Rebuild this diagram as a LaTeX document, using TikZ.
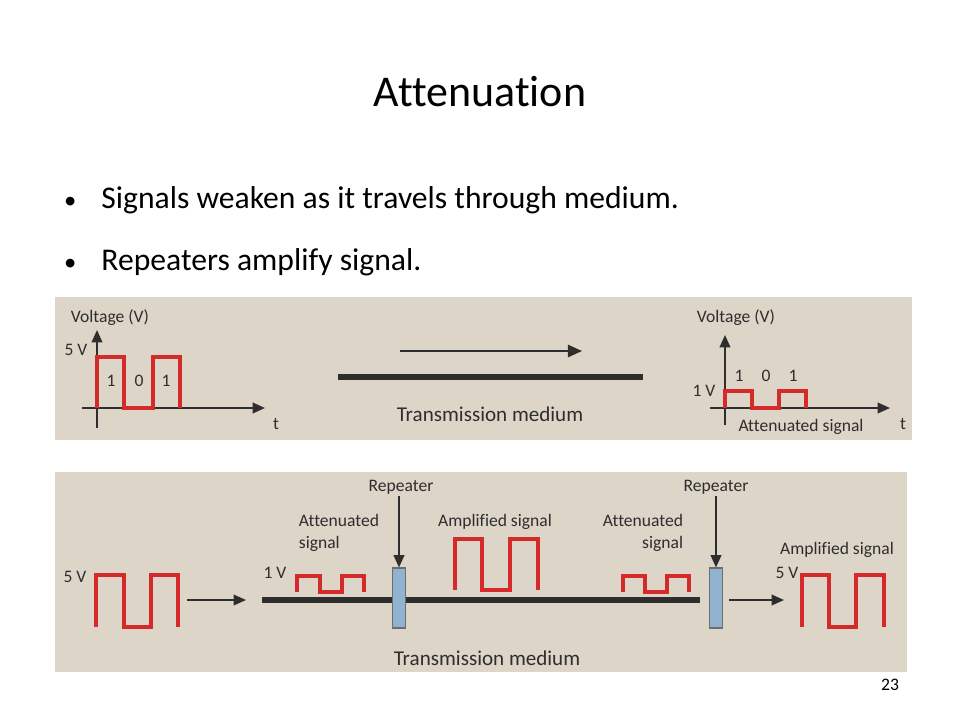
\documentclass[tikz,border=0pt]{standalone}
\usepackage{fontspec}
\setmainfont{Carlito}[Ligatures=CommonOff]
\usetikzlibrary{arrows.meta,positioning}
\definecolor{panel}{HTML}{DDD5C8}
\definecolor{sig}{HTML}{D42A2A}
\definecolor{rep}{HTML}{8FB3D0}
\definecolor{ink}{HTML}{2E2E2E}
\newcommand{\slidebul}{{\fontsize{14}{14}\selectfont\textbullet}\hspace{0.5cm}}

\begin{document}
\begin{tikzpicture}
 [x=0.02cm,y=-0.02cm,
 lbl/.style={text=ink,font=\fontsize{10}{12.5}\selectfont,inner sep=1pt},
 axis/.style={ink,line width=1.1pt,-{Triangle[length=7pt,width=6pt]}},
 wave/.style={sig,line width=1.8pt},
 medium/.style={ink,line width=3.5pt},
 repbox/.style={draw=ink!70,fill=rep,line width=0.6pt,minimum width=0.26cm,minimum height=1.2cm,inner sep=0pt}]
\useasboundingbox[fill=white] (0,0) rectangle (960,720);

\node (title) at (480,92) {\fontsize{25}{28}\selectfont Attenuation};
\node[anchor=west] (b1) at (58,200) {\fontsize{18}{20}\selectfont\slidebul Signals weaken as it travels through medium.};
\node[anchor=west] (b2) at (58,262) {\fontsize{18}{20}\selectfont\slidebul Repeaters amplify signal.};

% upper panel
\fill[panel] (55,297) rectangle (912,440);
\coordinate (o1) at (97,408);
\draw[axis] (97,428) -- (97,330);
\draw[axis] (82,408) -- (265,408);
\draw[wave] (o1) -- (97,357) -- (124,357) -- (124,408) -- (153,408) -- (153,357) -- (180,357) -- (180,408);
\node[lbl] (v1) at (110,318) {Voltage (V)};
\node[lbl] (f1) at (76,350) {5 V};
\node[lbl] (d1) at (111,381) {1};
\node[lbl] (d2) at (139,381) {0};
\node[lbl] (d3) at (166,381) {1};
\node[lbl] (t1) at (276,424) {t};

\coordinate (m1) at (400,351);
\coordinate (m2) at (582,351);
\draw[ink,line width=1pt,-{Triangle[length=8pt,width=7pt]}] (m1) -- (m2);
\draw[medium] (338,377) -- (643,377);
\node[lbl,font=\fontsize{12}{14}\selectfont] (tm1) at (490,414) {Transmission medium};

\coordinate (o2) at (725,408);
\draw[axis] (725,425) -- (725,335);
\draw[axis] (710,408) -- (890,408);
\draw[wave] (o2) -- (725,391) -- (752,391) -- (752,408) -- (779,408) -- (779,391) -- (806,391) -- (806,408);
\node[lbl] (v2) at (736,318) {Voltage (V)};
\node[lbl] (f2) at (704,391) {1 V};
\node[lbl] (e1) at (739,376) {1};
\node[lbl] (e2) at (766,376) {0};
\node[lbl] (e3) at (793,376) {1};
\node[lbl] (att) at (801,427) {Attenuated signal};
\node[lbl] (t2) at (903,424) {t};

% lower panel
\fill[panel] (55,472) rectangle (907,672);
\draw[wave] (96,627) -- (96,575) -- (124,575) -- (124,627) -- (151,627) -- (151,575) -- (178,575) -- (178,627);
\node[lbl] (s5) at (75,577) {5 V};
\coordinate (a1) at (187,600);
\coordinate (a2) at (246,600);
\draw[axis] (a1) -- (a2);
\draw[medium] (262,600) -- (700,600);

\node[repbox] (r1) at (399,598) {};
\node[repbox] (r2) at (716,598) {};
\node[lbl] (rl1) at (401,487) {Repeater};
\node[lbl] (rl2) at (716,487) {Repeater};
\draw[axis] (rl1.south -| r1) -- (r1.north);
\draw[axis] (rl2.south -| r2) -- (r2.north);

\node[lbl] (s1) at (275,573) {1 V};
\draw[wave] (297,592) -- (297,576) -- (320,576) -- (320,592) -- (342,592) -- (342,576) -- (364,576) -- (364,592);
\node[lbl,align=left] (at1) at (339,533) {Attenuated\\signal};
\draw[wave] (455,590) -- (455,539) -- (482,539) -- (482,590) -- (510,590) -- (510,539) -- (538,539) -- (538,590);
\node[lbl] (am1) at (495,522) {Amplified signal};
\draw[wave] (623,592) -- (623,576) -- (645,576) -- (645,592) -- (667,592) -- (667,576) -- (689,576) -- (689,592);
\node[lbl,align=right] (at2) at (643,533) {Attenuated\\signal};

\coordinate (a3) at (729,600);
\coordinate (a4) at (784,600);
\draw[axis] (a3) -- (a4);
\node[lbl] (s6) at (787,573) {5 V};
\node[lbl] (am2) at (837,550) {Amplified signal};
\draw[wave] (802,627) -- (802,575) -- (829,575) -- (829,627) -- (856,627) -- (856,575) -- (884,575) -- (884,627);
\node[lbl,font=\fontsize{12}{14}\selectfont] (tm2) at (487,658) {Transmission medium};

\node (pg) at (890,685) {\fontsize{10}{12}\selectfont 23};
\end{tikzpicture}
\end{document}
